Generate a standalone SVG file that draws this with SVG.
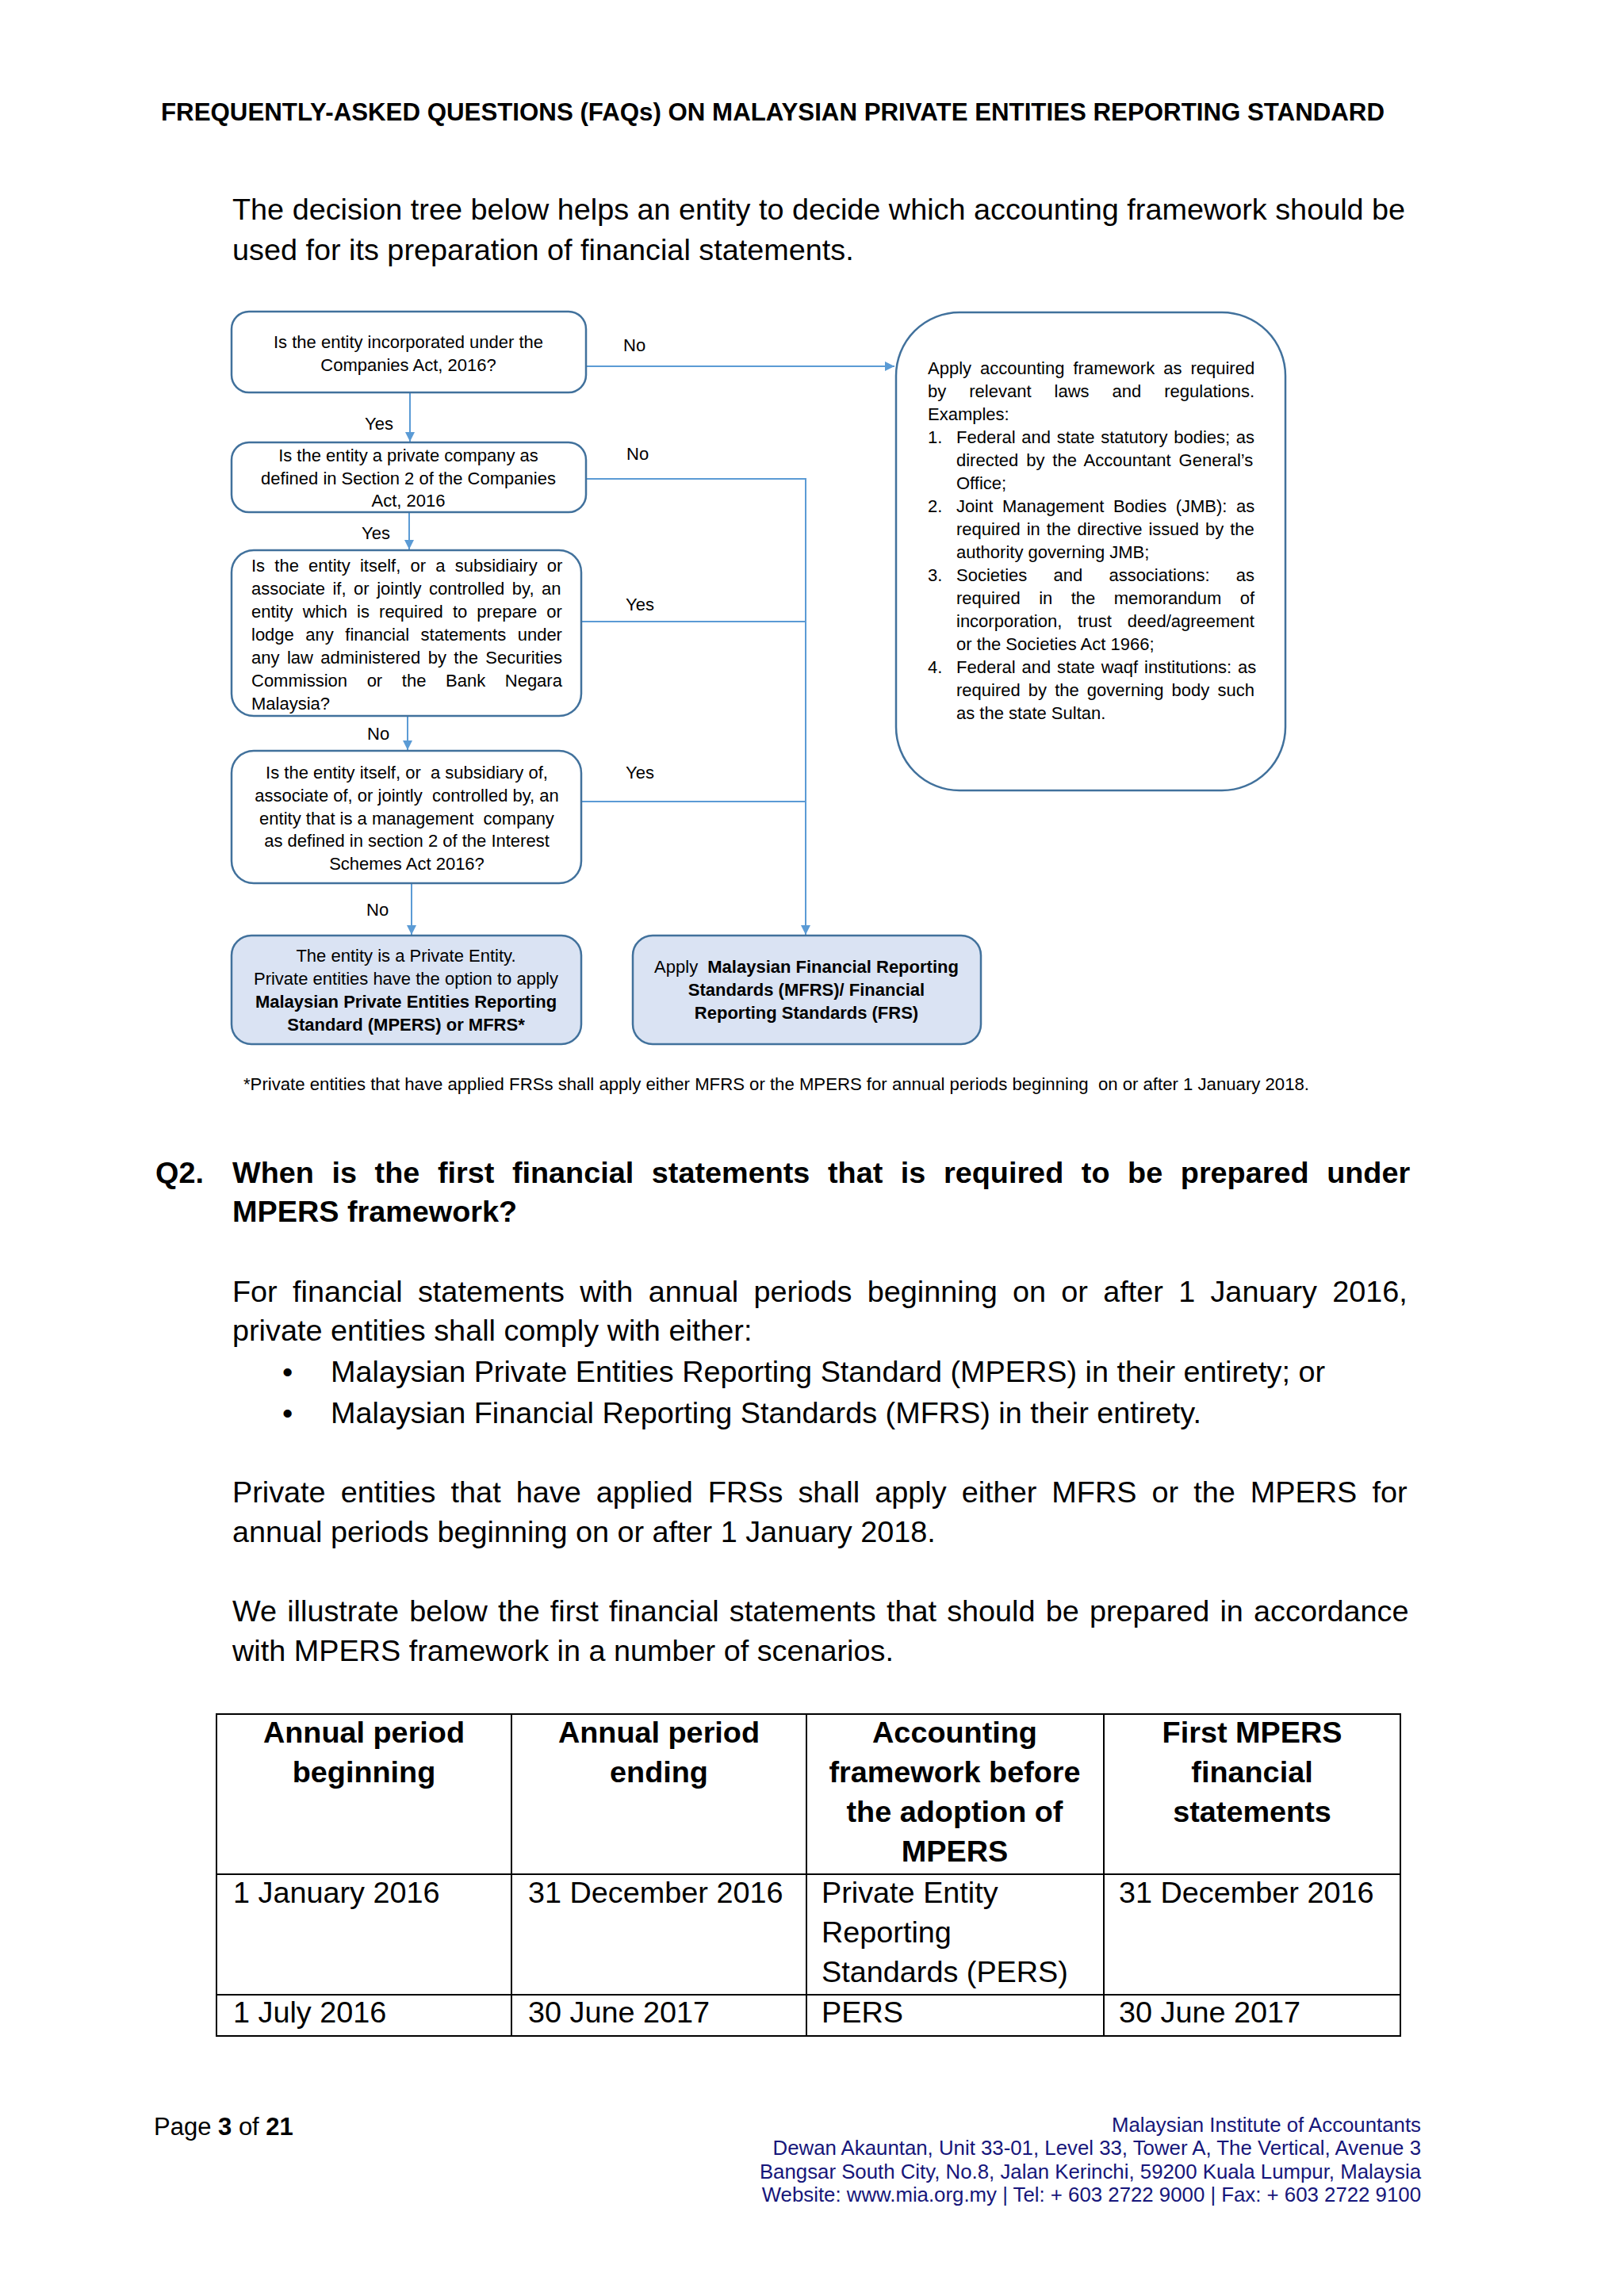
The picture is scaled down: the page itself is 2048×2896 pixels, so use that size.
<svg xmlns="http://www.w3.org/2000/svg" width="2048" height="2896" viewBox="0 0 2048 2896">
<defs>
<style>
text{font-family:"Liberation Sans",Arial,sans-serif;fill:#000}
.s{font-size:22px}
.m{font-size:37.8px}
.b{font-weight:bold}
.mid{text-anchor:middle}
.end{text-anchor:end}
.box{fill:#fff;stroke:#41719c;stroke-width:2.5}
.boxf{fill:#dae3f3;stroke:#41719c;stroke-width:2.5}
.con{fill:none;stroke:#5b9bd5;stroke-width:2}
.tb{stroke:#000;stroke-width:2;fill:none}
.ft{font-size:25.8px;fill:#16167a}
</style>
<marker id="ah" markerUnits="userSpaceOnUse" markerWidth="13" markerHeight="12" refX="12" refY="6" orient="auto">
<path d="M0,0 L12,6 L0,12 z" fill="#5b9bd5"/>
</marker>
</defs>
<rect width="2048" height="2896" fill="#fff"/>

<text x="203" y="152" class="b" font-size="31" textLength="1543" lengthAdjust="spacingAndGlyphs">FREQUENTLY-ASKED QUESTIONS (FAQs) ON MALAYSIAN PRIVATE ENTITIES REPORTING STANDARD</text>
<text x="293" y="277" class="m">The decision tree below helps an entity to decide which accounting framework should be</text>
<text x="293" y="328" class="m">used for its preparation of financial statements.</text>

<g id="connectors">
<path class="con" d="M739,462 H1128" marker-end="url(#ah)"/>
<path class="con" d="M517,495 V557" marker-end="url(#ah)"/>
<path class="con" d="M516,646 V693" marker-end="url(#ah)"/>
<path class="con" d="M514,903 V946" marker-end="url(#ah)"/>
<path class="con" d="M519,1114 V1179" marker-end="url(#ah)"/>
<path class="con" d="M739,604 H1016 V1179" marker-end="url(#ah)"/>
<path class="con" d="M733,784 H1016"/>
<path class="con" d="M733,1011 H1016"/>
<text x="786" y="443" class="s">No</text>
<text x="460" y="542" class="s">Yes</text>
<text x="790" y="580" class="s">No</text>
<text x="456" y="680" class="s">Yes</text>
<text x="789" y="770" class="s">Yes</text>
<text x="463" y="933" class="s">No</text>
<text x="789" y="982" class="s">Yes</text>
<text x="462" y="1155" class="s">No</text>
</g>

<g id="q1">
<rect class="box" x="292" y="393" width="447" height="102" rx="22"/>
<text x="515" y="439" class="s mid">Is the entity incorporated under the</text>
<text x="515" y="468" class="s mid">Companies Act, 2016?</text>
</g>

<g id="q2">
<rect class="box" x="292" y="558" width="447" height="88" rx="22"/>
<text x="515" y="582" class="s mid">Is the entity a private company as</text>
<text x="515" y="611" class="s mid">defined in Section 2 of the Companies</text>
<text x="515" y="639" class="s mid">Act, 2016</text>
</g>

<g id="q3">
<rect class="box" x="292" y="694" width="441" height="209" rx="28"/>
<text x="317" y="721" class="s" style="word-spacing:6.1px">Is the entity itself, or a subsidiairy or</text>
<text x="317" y="750" class="s" style="word-spacing:3.4px">associate if, or jointly controlled by, an</text>
<text x="317" y="779" class="s" style="word-spacing:6.0px">entity which is required to prepare or</text>
<text x="317" y="808" class="s" style="word-spacing:8.4px">lodge any financial statements under</text>
<text x="317" y="837" class="s" style="word-spacing:3.3px">any law administered by the Securities</text>
<text x="317" y="866" class="s" style="word-spacing:18.5px">Commission or the Bank Negara</text>
<text x="317" y="895" class="s">Malaysia?</text>
</g>

<g id="q4">
<rect class="box" x="292" y="947" width="441" height="167" rx="28"/>
<text x="513" y="982" class="s mid">Is the entity itself, or&#160; a subsidiary of,</text>
<text x="513" y="1011" class="s mid">associate of, or jointly&#160; controlled by, an</text>
<text x="513" y="1040" class="s mid">entity that is a management&#160; company</text>
<text x="513" y="1068" class="s mid">as defined in section 2 of the Interest</text>
<text x="513" y="1097" class="s mid">Schemes Act 2016?</text>
</g>

<g id="private-entity">
<rect class="boxf" x="292" y="1180" width="441" height="137" rx="25"/>
<text x="512" y="1213" class="s mid">The entity is a Private Entity.</text>
<text x="512" y="1242" class="s mid">Private entities have the option to apply</text>
<text x="512" y="1271" class="s mid b">Malaysian Private Entities Reporting</text>
<text x="512" y="1300" class="s mid b">Standard (MPERS) or MFRS*</text>
</g>

<g id="apply-mfrs">
<rect class="boxf" x="798" y="1180" width="439" height="137" rx="25"/>
<text x="1017" y="1227" class="s mid">Apply <tspan class="b" dx="6">Malaysian Financial Reporting</tspan></text>
<text x="1017" y="1256" class="s mid b">Standards (MFRS)/ Financial</text>
<text x="1017" y="1285" class="s mid b">Reporting Standards (FRS)</text>
</g>

<g id="apply-other">
<rect class="box" x="1130" y="394" width="491" height="603" rx="80"/>
<text x="1170" y="472" class="s" style="word-spacing:4.9px">Apply accounting framework as required</text>
<text x="1170" y="501" class="s" style="word-spacing:22.9px">by relevant laws and regulations.</text>
<text x="1170" y="530" class="s">Examples:</text>
<text x="1170" y="559" class="s">1.</text>
<text x="1206" y="559" class="s" style="word-spacing:1.6px">Federal and state statutory bodies; as</text>
<text x="1206" y="588" class="s" style="word-spacing:3.8px">directed by the Accountant General’s</text>
<text x="1206" y="617" class="s">Office;</text>
<text x="1170" y="646" class="s">2.</text>
<text x="1206" y="646" class="s" style="word-spacing:5.4px">Joint Management Bodies (JMB): as</text>
<text x="1206" y="675" class="s" style="word-spacing:1.9px">required in the directive issued by the</text>
<text x="1206" y="704" class="s">authority governing JMB;</text>
<text x="1170" y="733" class="s">3.</text>
<text x="1206" y="733" class="s" style="word-spacing:27.1px">Societies and associations: as</text>
<text x="1206" y="762" class="s" style="word-spacing:17.3px">required in the memorandum of</text>
<text x="1206" y="791" class="s" style="word-spacing:13.7px">incorporation, trust deed/agreement</text>
<text x="1206" y="820" class="s">or the Societies Act 1966;</text>
<text x="1170" y="849" class="s">4.</text>
<text x="1206" y="849" class="s" style="word-spacing:1.8px">Federal and state waqf institutions: as</text>
<text x="1206" y="878" class="s" style="word-spacing:4.0px">required by the governing body such</text>
<text x="1206" y="907" class="s">as the state Sultan.</text>
</g>

<text x="307" y="1375" class="s" textLength="1344" lengthAdjust="spacingAndGlyphs">*Private entities that have applied FRSs shall apply either MFRS or the MPERS for annual periods beginning&#160; on or after 1 January 2018.</text>

<text x="196" y="1492" class="m b">Q2.</text>
<text x="293" y="1492" class="m b" style="word-spacing:12.1px">When is the first financial statements that is required to be prepared under</text>
<text x="293" y="1541" class="m b">MPERS framework?</text>

<text x="293" y="1642" class="m" style="word-spacing:8.8px">For financial statements with annual periods beginning on or after 1 January 2016,</text>
<text x="293" y="1691" class="m">private entities shall comply with either:</text>
<text x="356" y="1743" class="m">•</text>
<text x="417" y="1743" class="m">Malaysian Private Entities Reporting Standard (MPERS) in their entirety; or</text>
<text x="356" y="1795" class="m">•</text>
<text x="417" y="1795" class="m">Malaysian Financial Reporting Standards (MFRS) in their entirety.</text>

<text x="293" y="1895" class="m" style="word-spacing:8.6px">Private entities that have applied FRSs shall apply either MFRS or the MPERS for</text>
<text x="293" y="1945" class="m">annual periods beginning on or after 1 January 2018.</text>

<text x="293" y="2045" class="m" style="word-spacing:2.7px">We illustrate below the first financial statements that should be prepared in accordance</text>
<text x="293" y="2095" class="m">with MPERS framework in a number of scenarios.</text>

<g id="table">
<rect class="tb" x="273" y="2162" width="1493" height="406"/>
<path class="tb" d="M273,2364 H1766 M273,2516 H1766 M645,2162 V2568 M1017,2162 V2568 M1392,2162 V2568"/>
<text x="459" y="2198" class="m b mid">Annual period</text>
<text x="459" y="2248" class="m b mid">beginning</text>
<text x="831" y="2198" class="m b mid">Annual period</text>
<text x="831" y="2248" class="m b mid">ending</text>
<text x="1204" y="2198" class="m b mid">Accounting</text>
<text x="1204" y="2248" class="m b mid">framework before</text>
<text x="1204" y="2298" class="m b mid">the adoption of</text>
<text x="1204" y="2348" class="m b mid">MPERS</text>
<text x="1579" y="2198" class="m b mid">First MPERS</text>
<text x="1579" y="2248" class="m b mid">financial</text>
<text x="1579" y="2298" class="m b mid">statements</text>
<text x="294" y="2400" class="m">1 January 2016</text>
<text x="666" y="2400" class="m">31 December 2016</text>
<text x="1036" y="2400" class="m">Private Entity</text>
<text x="1036" y="2450" class="m">Reporting</text>
<text x="1036" y="2500" class="m">Standards (PERS)</text>
<text x="1411" y="2400" class="m">31 December 2016</text>
<text x="294" y="2551" class="m">1 July 2016</text>
<text x="666" y="2551" class="m">30 June 2017</text>
<text x="1036" y="2551" class="m">PERS</text>
<text x="1411" y="2551" class="m">30 June 2017</text>
</g>

<text x="194" y="2693" font-size="31">Page <tspan class="b">3</tspan> of <tspan class="b">21</tspan></text>
<text x="1792" y="2689" class="ft end">Malaysian Institute of Accountants</text>
<text x="1792" y="2718" class="ft end">Dewan Akauntan, Unit 33-01, Level 33, Tower A, The Vertical, Avenue 3</text>
<text x="1792" y="2748" class="ft end">Bangsar South City, No.8, Jalan Kerinchi, 59200 Kuala Lumpur, Malaysia</text>
<text x="1792" y="2777" class="ft end">Website: www.mia.org.my | Tel: + 603 2722 9000 | Fax: + 603 2722 9100</text>
</svg>
